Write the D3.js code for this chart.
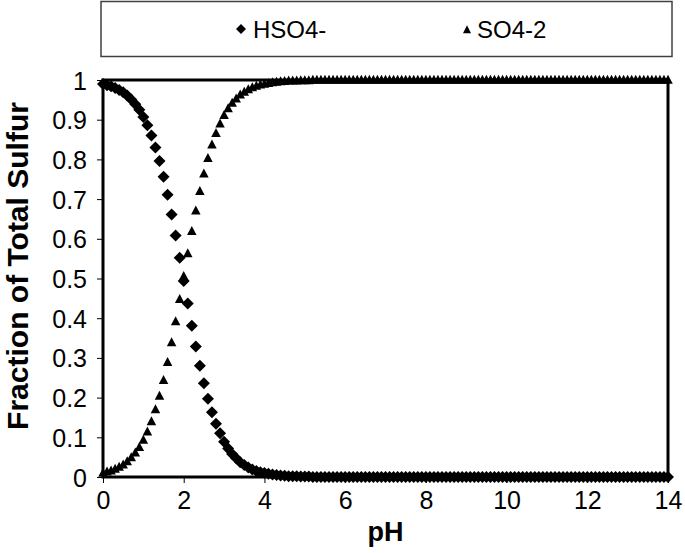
<!DOCTYPE html>
<html>
<head>
<meta charset="utf-8">
<script src="https://cdn.jsdelivr.net/npm/d3@7"></script>
<style>
  html, body { margin: 0; padding: 0; background: #fff; }
  svg { display: block; font-family: "Liberation Sans", Arial, sans-serif; }
</style>
</head>
<body>
<svg id="chart" width="685" height="553"></svg>
<script>
// ---------------- data ----------------
const pH = [
  0.0,0.1,0.2,0.3,0.4,0.5,0.6,0.7,0.8,0.9,
  1.0,1.1,1.2,1.3,1.4,1.5,1.6,1.7,1.8,1.9,
  2.0,2.1,2.2,2.3,2.4,2.5,2.6,2.7,2.8,2.9,
  3.0,3.1,3.2,3.3,3.4,3.5,3.6,3.7,3.8,3.9,
  4.0,4.1,4.2,4.3,4.4,4.5,4.6,4.7,4.8,4.9,
  5.0,5.1,5.2,5.3,5.4,5.5,5.6,5.7,5.8,5.9,
  6.0,6.1,6.2,6.3,6.4,6.5,6.6,6.7,6.8,6.9,
  7.0,7.1,7.2,7.3,7.4,7.5,7.6,7.7,7.8,7.9,
  8.0,8.1,8.2,8.3,8.4,8.5,8.6,8.7,8.8,8.9,
  9.0,9.1,9.2,9.3,9.4,9.5,9.6,9.7,9.8,9.9,
  10.0,10.1,10.2,10.3,10.4,10.5,10.6,10.7,10.8,10.9,
  11.0,11.1,11.2,11.3,11.4,11.5,11.6,11.7,11.8,11.9,
  12.0,12.1,12.2,12.3,12.4,12.5,12.6,12.7,12.8,12.9,
  13.0,13.1,13.2,13.3,13.4,13.5,13.6,13.7,13.8,13.9,
  14.0
];

const HSO4 = [
  0.990,0.987,0.984,0.980,0.975,0.969,0.961,0.951,0.939,0.925,
  0.907,0.886,0.860,0.830,0.796,0.756,0.711,0.661,0.608,0.552,
  0.494,0.437,0.381,0.329,0.280,0.236,0.197,0.163,0.134,0.110,
  0.089,0.072,0.058,0.047,0.037,0.030,0.024,0.019,0.015,0.012,
  0.010,0.008,0.006,0.005,0.004,0.003,0.002,0.002,0.002,0.001,
  0.001,0.001,0,0,0,0,0,0,0,0,
  0,0,0,0,0,0,0,0,0,0,
  0,0,0,0,0,0,0,0,0,0,
  0,0,0,0,0,0,0,0,0,0,
  0,0,0,0,0,0,0,0,0,0,
  0,0,0,0,0,0,0,0,0,0,
  0,0,0,0,0,0,0,0,0,0,
  0,0,0,0,0,0,0,0,0,0,
  0,0,0,0,0,0,0,0,0,0,
  0
];

const SO4 = [
  0.010,0.013,0.016,0.020,0.025,0.031,0.039,0.049,0.061,0.075,
  0.093,0.114,0.140,0.170,0.204,0.244,0.289,0.339,0.392,0.448,
  0.506,0.563,0.619,0.671,0.720,0.764,0.803,0.837,0.866,0.890,
  0.911,0.928,0.942,0.953,0.963,0.970,0.976,0.981,0.985,0.988,
  0.990,0.992,0.994,0.995,0.996,0.997,0.998,0.998,0.998,0.999,
  0.999,0.999,1,1,1,1,1,1,1,1,
  1,1,1,1,1,1,1,1,1,1,
  1,1,1,1,1,1,1,1,1,1,
  1,1,1,1,1,1,1,1,1,1,
  1,1,1,1,1,1,1,1,1,1,
  1,1,1,1,1,1,1,1,1,1,
  1,1,1,1,1,1,1,1,1,1,
  1,1,1,1,1,1,1,1,1,1,
  1,1,1,1,1,1,1,1,1,1,
  1
];

const seriesNames = ["HSO4-", "SO4-2"];
const xTickValues = [0, 2, 4, 6, 8, 10, 12, 14];
const yTickValues = [0, 0.1, 0.2, 0.3, 0.4, 0.5, 0.6, 0.7, 0.8, 0.9, 1];
const yTickLabels = ["0", "0.1", "0.2", "0.3", "0.4", "0.5", "0.6", "0.7", "0.8", "0.9", "1"];
const xTitle = "pH";
const yTitle = "Fraction of Total Sulfur";

// ---------------- layout ----------------
const svg = d3.select("#chart");
const plot = { left: 103, right: 668, top: 80, bottom: 477 };

const x = d3.scaleLinear().domain([0, 14]).range([plot.left, plot.right]);
const y = d3.scaleLinear().domain([0, 1]).range([plot.bottom, plot.top]);

const diamondPath = r => `M0,${-r}L${r},0L0,${r}L${-r},0Z`;
const trianglePath = (w, h) => `M0,${-h * 0.58}L${w / 2},${h * 0.42}L${-w / 2},${h * 0.42}Z`;
const FONT = "Liberation Sans, Arial, sans-serif";

// ---------------- legend ----------------
svg.append("rect")
  .attr("x", 101).attr("y", 1.5)
  .attr("width", 571).attr("height", 55)
  .attr("fill", "#fff").attr("stroke", "#404040").attr("stroke-width", 1.5);

const legend = svg.append("g");
legend.append("path").attr("d", diamondPath(5)).attr("transform", "translate(241,29)").attr("fill", "#000");
legend.append("text").attr("x", 253).attr("y", 38).attr("font-size", 24).text(seriesNames[0]);
legend.append("path").attr("d", trianglePath(8, 8)).attr("transform", "translate(467,30)").attr("fill", "#000");
legend.append("text").attr("x", 477).attr("y", 38).attr("font-size", 24).text(seriesNames[1]);

// ---------------- axes ----------------
const yAxis = d3.axisLeft(y)
  .tickValues(yTickValues)
  .tickFormat((d, i) => yTickLabels[i])
  .tickSize(6).tickPadding(10);
const gy = svg.append("g").attr("transform", `translate(${plot.left},0)`).call(yAxis);
gy.select(".domain").remove();
gy.selectAll(".tick line").attr("stroke", "#000").attr("stroke-width", 1);
gy.selectAll(".tick text").attr("font-size", 25).attr("fill", "#000")
  .attr("font-family", FONT).attr("dy", "0.36em");

const xAxis = d3.axisBottom(x)
  .tickValues(xTickValues)
  .tickFormat(d3.format("d"))
  .tickSize(6).tickPadding(8);
const gx = svg.append("g").attr("transform", `translate(0,${plot.bottom})`).call(xAxis);
gx.select(".domain").remove();
gx.selectAll(".tick line").attr("stroke", "#000").attr("stroke-width", 1);
gx.selectAll(".tick text").attr("font-size", 25).attr("fill", "#000")
  .attr("font-family", FONT);

// plot area border
svg.append("rect")
  .attr("x", plot.left).attr("y", plot.top)
  .attr("width", plot.right - plot.left).attr("height", plot.bottom - plot.top)
  .attr("fill", "none").attr("stroke", "#000").attr("stroke-width", 3);

// ---------------- titles ----------------
svg.append("text")
  .attr("x", (plot.left + plot.right) / 2).attr("y", 541)
  .attr("text-anchor", "middle").attr("font-size", 27).attr("font-weight", "bold")
  .text(xTitle);

svg.append("text")
  .attr("transform", `translate(28,266) rotate(-90)`)
  .attr("text-anchor", "middle").attr("font-size", 30).attr("font-weight", "bold")
  .text(yTitle);

// ---------------- markers ----------------
const pts1 = pH.map((p, i) => ({ x: p, y: HSO4[i] }));
const pts2 = pH.map((p, i) => ({ x: p, y: SO4[i] }));

svg.append("g").selectAll("path").data(pts1).join("path")
  .attr("d", diamondPath(6))
  .attr("transform", d => `translate(${x(d.x)},${y(d.y)})`)
  .attr("fill", "#000");

svg.append("g").selectAll("path").data(pts2).join("path")
  .attr("d", trianglePath(9.5, 9))
  .attr("transform", d => `translate(${x(d.x)},${y(d.y)})`)
  .attr("fill", "#000");
</script>
</body>
</html>
